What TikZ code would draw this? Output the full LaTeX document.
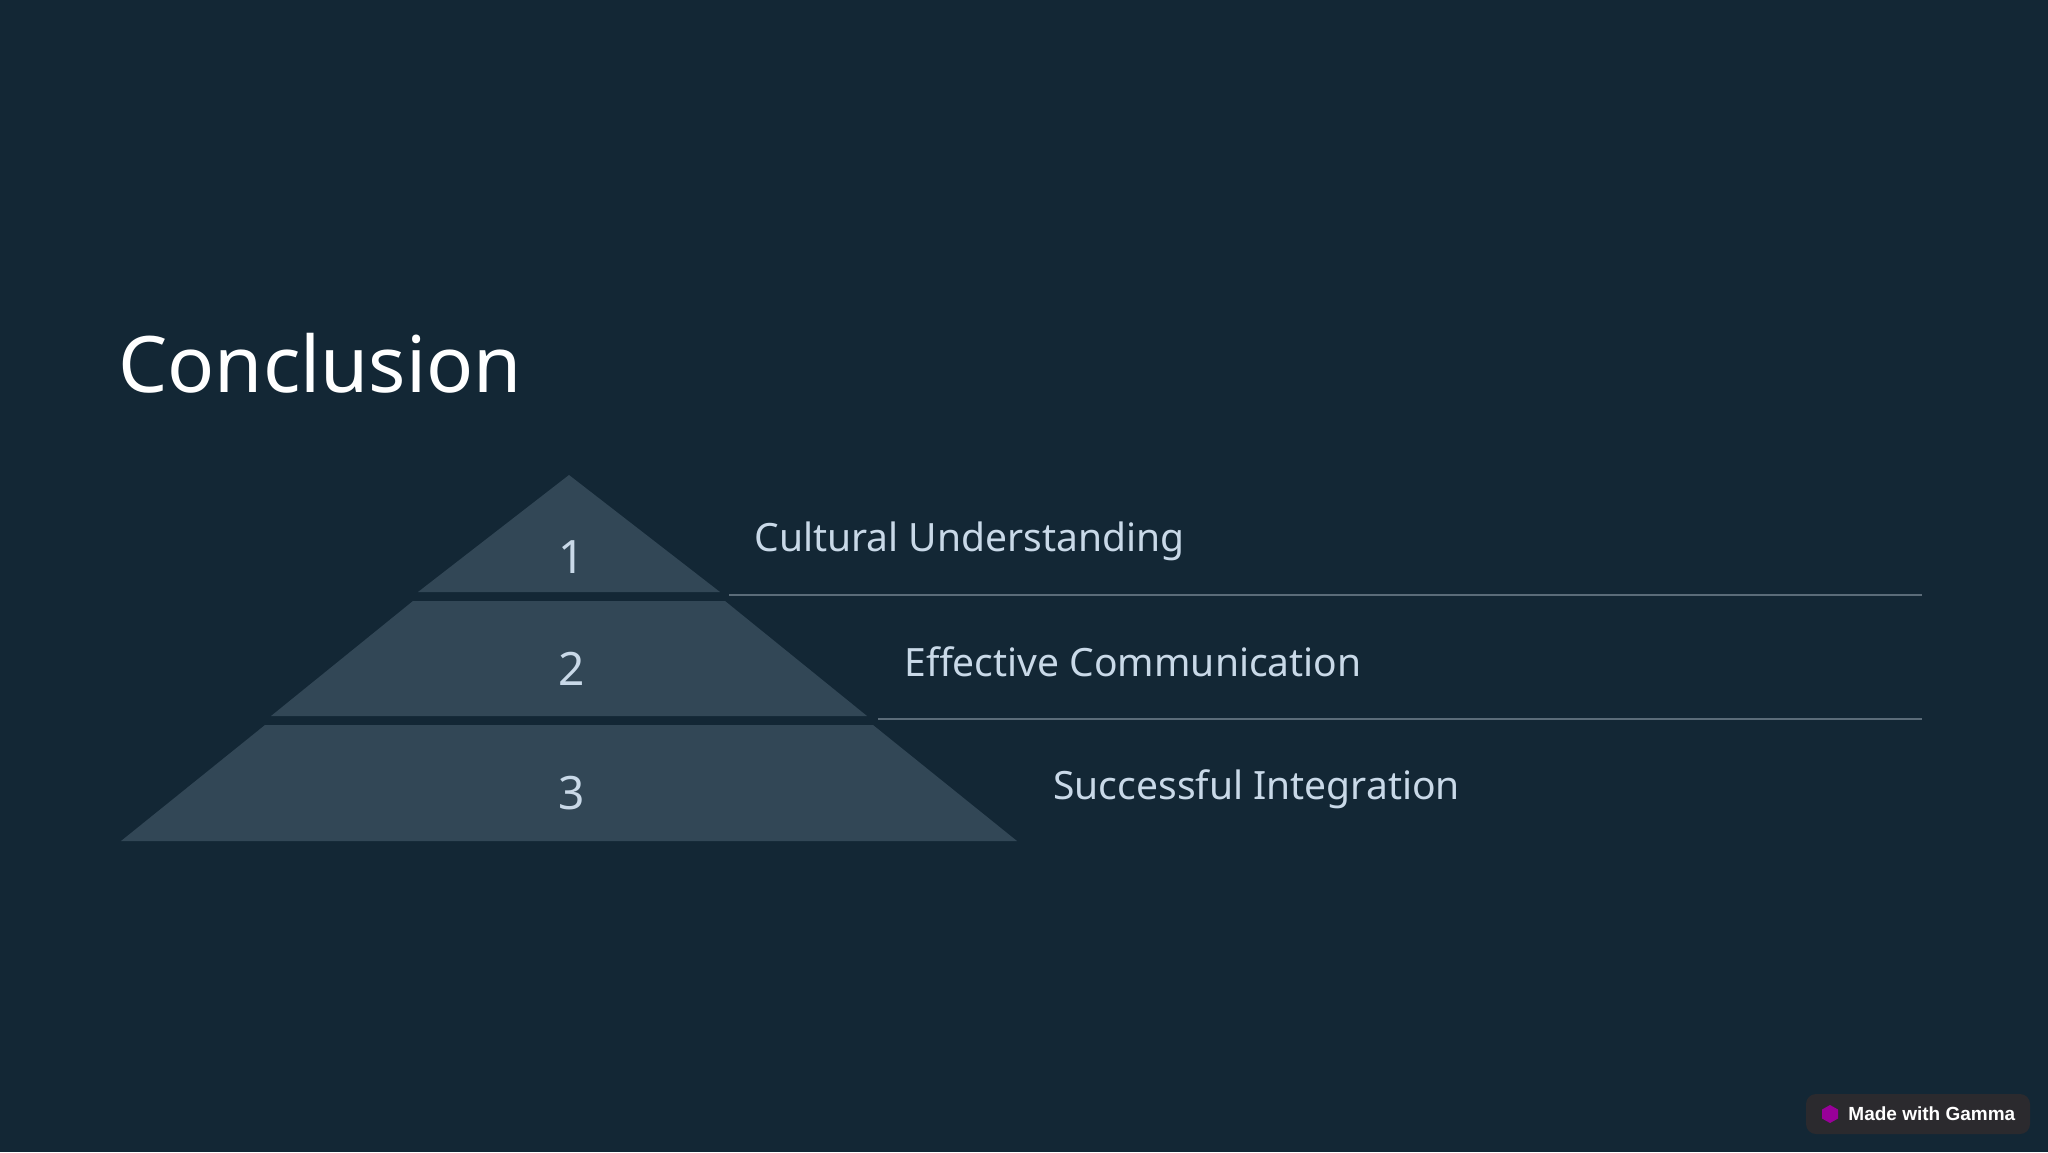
\documentclass[tikz,border=0pt]{standalone}
\usepackage{fontspec}
\setmainfont{Noto Sans}
\newfontfamily\badgefont{Liberation Sans}
\definecolor{bgcol}{HTML}{132735}
\definecolor{tiercol}{HTML}{324756}
\definecolor{labelcol}{HTML}{C9D9E8}
\definecolor{rulecol}{HTML}{5B6C79}
\definecolor{badgecol}{HTML}{2B2A2E}
\tikzset{
  tier/.style={fill=tiercol,draw=none},
  tiernum/.style={text=labelcol,font=\fontsize{23}{27}\selectfont},
  tierlabel/.style={text=labelcol,anchor=west,font=\fontsize{19.5}{24}\selectfont,inner sep=0pt},
  tierrule/.style={draw=rulecol,line width=0.8pt}
}
\begin{document}
\begin{tikzpicture}[x=0.5pt,y=-0.5pt]
    \fill[bgcol] (0,0) rectangle (2048,1152);
    \useasboundingbox (0,0) rectangle (2048,1152);

    \node[anchor=base west,inner sep=0pt,text=white,
        font=\fontsize{39}{44}\selectfont] (title) at (118,392) {Conclusion};

    % pyramid tiers
    \fill[tier] (569,475) -- (720,592) -- (418,592) -- cycle;
    \fill[tier] (413,601) -- (725,601) -- (867,716) -- (271,716) -- cycle;
    \fill[tier] (265,725) -- (873,725) -- (1017,841) -- (121,841) -- cycle;

    \node[tiernum] (n1) at (572,557) {1};
    \node[tiernum] (n2) at (572,669) {2};
    \node[tiernum] (n3) at (572,793) {3};

    \node[tierlabel] (l1) at (754,541) {Cultural Understanding};
    \node[tierlabel] (l2) at (904,662) {Effective Communication};
    \node[tierlabel] (l3) at (1053,789) {Successful Integration};

    \coordinate (r1a) at (729,595);
    \coordinate (r1b) at (1922,595);
    \coordinate (r2a) at (878,719);
    \coordinate (r2b) at (1922,719);
    \draw[tierrule] (r1a) -- (r1b);
    \draw[tierrule] (r2a) -- (r2b);

    % badge
    \fill[badgecol,rounded corners=5pt] (1806,1094) rectangle (2030,1134);
    \fill[violet!80!magenta] (1830,1105) -- (1838,1109.5) -- (1838,1118.5)
        -- (1830,1123) -- (1822,1118.5) -- (1822,1109.5) -- cycle;
    \node[anchor=west,inner sep=0pt,text=white,
        font=\badgefont\fontsize{9.5}{11}\selectfont\bfseries] (badge) at (1848,1114) {Made with Gamma};
\end{tikzpicture}
\end{document}
